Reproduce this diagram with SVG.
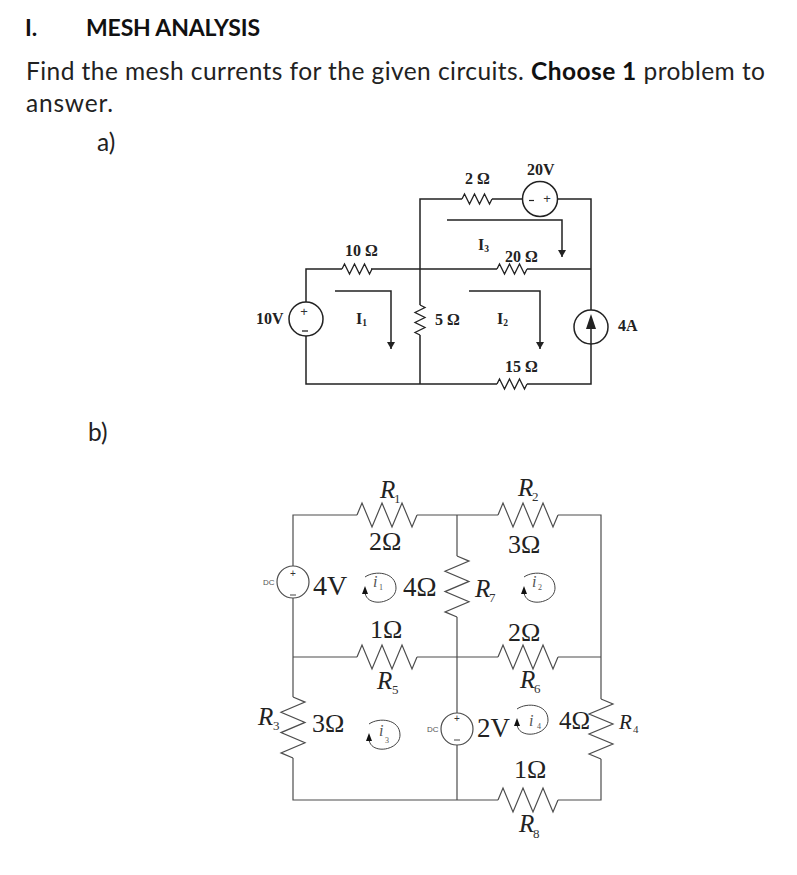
<svg xmlns="http://www.w3.org/2000/svg" width="797" height="875" viewBox="0 0 797 875">
<style>
.h{font-family:"Lato","Open Sans",sans-serif;font-size:24.500px;fill:#222}
.hb{font-family:"Lato","Open Sans",sans-serif;font-size:24.500px;font-weight:700;fill:#111}
.ht{font-family:"Lato","Open Sans",sans-serif;font-size:23px;font-weight:700;fill:#111}
.w{fill:none;stroke:#222;stroke-width:1.5}
.g{fill:none;stroke:#4d4d4d;stroke-width:1.2}
.bg{fill:#fff;stroke:#222;stroke-width:1.5}
.bgb{fill:#fff;stroke:#4d4d4d;stroke-width:1.2}
.a{font-family:"Liberation Serif",serif;font-size:16px;font-weight:700;fill:#222}
.as{font-family:"Liberation Serif",serif;font-size:9.500px;font-weight:700;fill:#222}
.r{font-family:"Liberation Serif",serif;font-size:25px;font-style:italic;fill:#222}
.rs{font-family:"Liberation Serif",serif;font-size:13px;fill:#333}
.n{font-family:"Liberation Serif",serif;font-size:26px;fill:#222}
.dc{font-family:"Liberation Sans",sans-serif;font-size:8px;fill:#555}
.i{font-family:"Liberation Serif",serif;font-size:16px;font-style:italic;fill:#555}
.is{font-family:"Liberation Serif",serif;font-size:8px;fill:#555}
.p{font-family:"Liberation Sans",sans-serif;font-size:10px;fill:#333;text-anchor:middle}
</style>
<defs>
<path id="rs" d="M0,0l2.500,-5 5,10 5,-10 5,10 5,-10 5,10 2.500,-5" fill="none" stroke="#222" stroke-width="1.3"/>
<path id="rb" d="M0,0l5,-12 10,24 10,-24 10,24 10,-24 10,24 5,-12" fill="none" stroke="#4d4d4d" stroke-width="1.2"/>
<marker id="ah" viewBox="0 0 7 8" refX="7" refY="4" markerWidth="7" markerHeight="8" orient="auto" markerUnits="userSpaceOnUse"><path d="M0,0L7,4L0,8Z" fill="#222"/></marker>
<g id="loop"><path d="M0,-14C10,-21 31,-19 31,-3C31,13 1,17 0,1" fill="none" stroke="#444" stroke-width="1"/><path d="M-3,3H3L0,-5Z" fill="#111"/></g>
</defs>

<g id="heading">
<text class="ht" x="25" y="36">I.</text>
<text class="ht" x="86" y="36" textLength="174">MESH ANALYSIS</text>
<text class="h" x="26" y="80" textLength="739">Find the mesh currents for the given circuits. <tspan class="hb">Choose 1</tspan> problem to</text>
<text class="h" x="26" y="112" textLength="87">answer.</text>
<text class="h" x="97" y="151">a)</text>
<text class="h" x="88" y="441">b)</text>
</g>

<g id="connectors">
<path class="w" d="M306,302V269H342M371,269H497M527,269H591M306,336V384H497M527,384H591V344M591,310V199H557M523,199H492M462,199H420V305M420,335V384"/>
<path class="w" d="M335,291H391V349" marker-end="url(#ah)"/>
<path class="w" d="M469,291H540V349" marker-end="url(#ah)"/>
<path class="w" d="M447,220H562V257" marker-end="url(#ah)"/>
<path class="g" d="M293,566V515H357M417,515H498M558,515H601V699M601,759V800H558M498,800H293V758M293,697V598M293,657H357M417,657H498M558,657H601M457,515V556M457,617V713M457,745V800"/>
</g>

<g id="circuit-a">
<g id="r10"><use href="#rs" x="342" y="269"/><text class="a" x="345" y="256">10 Ω</text></g>
<g id="r20"><use href="#rs" x="497" y="269"/><text class="a" x="505" y="262">20 Ω</text></g>
<g id="r15"><use href="#rs" x="497" y="384"/><text class="a" x="505" y="372">15 Ω</text></g>
<g id="r2a"><use href="#rs" x="462" y="199"/><text class="a" x="465" y="184">2 Ω</text></g>
<g id="r5a"><use href="#rs" transform="translate(420,305) rotate(90)"/><text class="a" x="435" y="325">5 Ω</text></g>
<g id="v10"><circle class="bg" cx="306" cy="319" r="17"/><text class="p" x="304" y="316" style="font-size:13px">+</text><path d="M302,331h6" stroke="#222" stroke-width="1.3"/><text class="a" x="256" y="324">10V</text></g>
<g id="v20"><circle class="bg" cx="540" cy="199" r="17.500"/><path d="M529,200.500h5" stroke="#222" stroke-width="1.2"/><text class="p" x="547" y="203" style="font-size:13px">+</text><text class="a" x="527" y="175">20V</text></g>
<g id="i4a"><circle class="bg" cx="591" cy="327" r="17"/><path d="M591,344V318" stroke="#222" stroke-width="1.5"/><path d="M586,329L591,314L596,329Z" fill="#222"/><text class="a" x="618" y="331">4A</text></g>
<g id="labels-a">
<text class="a" x="356" y="324">I<tspan class="as" dy="2">1</tspan></text>
<text class="a" x="497" y="324">I<tspan class="as" dy="2">2</tspan></text>
<text class="a" x="478" y="250">I<tspan class="as" dy="2">3</tspan></text>
</g>
</g>

<g id="circuit-b">
<g id="R1"><use href="#rb" x="357" y="515"/><text class="r" x="380" y="498">R</text><text class="rs" x="394" y="503">1</text><text class="n" x="369" y="550">2Ω</text></g>
<g id="R2"><use href="#rb" x="498" y="515"/><text class="r" x="518" y="496">R</text><text class="rs" x="532" y="501">2</text><text class="n" x="508" y="553">3Ω</text></g>
<g id="R7"><use href="#rb" transform="translate(457,556) rotate(90) scale(1.017,1)"/><text class="r" x="475" y="597">R</text><text class="rs" x="489" y="602">7</text><text class="n" x="403" y="596" style="font-size:27px">4Ω</text></g>
<g id="R5"><use href="#rb" x="357" y="657"/><text class="n" x="370" y="638">1Ω</text><text class="r" x="377" y="689">R</text><text class="rs" x="392" y="694">5</text></g>
<g id="R6"><use href="#rb" x="498" y="657"/><text class="n" x="508" y="641">2Ω</text><text class="r" x="520" y="688">R</text><text class="rs" x="534" y="693">6</text></g>
<g id="R3"><use href="#rb" transform="translate(293,697) rotate(90) scale(1.017,1)"/><text class="r" x="258" y="725">R</text><text class="rs" x="273" y="730">3</text><text class="n" x="312" y="732">3Ω</text></g>
<g id="R4"><use href="#rb" transform="translate(601,699) rotate(90)"/><text class="r" x="619" y="729" style="font-size:21px">R</text><text class="rs" x="633" y="733" style="font-size:11px">4</text><text class="n" x="559" y="729" style="font-size:25px">4Ω</text></g>
<g id="R8"><use href="#rb" x="498" y="800"/><text class="n" x="514" y="778">1Ω</text><text class="r" x="519" y="832">R</text><text class="rs" x="533" y="838">8</text></g>
<g id="V4"><circle class="bgb" cx="293" cy="582" r="16"/><text class="p" x="293" y="577">+</text><path d="M290,595h6" stroke="#444"/><text class="dc" x="263" y="585">DC</text><text class="n" x="313" y="595" style="font-size:28px">4V</text></g>
<g id="V2"><circle class="bgb" cx="457" cy="729" r="16"/><text class="p" x="457" y="722">+</text><path d="M454,740h6" stroke="#444"/><text class="dc" x="427" y="732">DC</text><text class="n" x="477" y="737" style="font-size:27px">2V</text></g>
<g id="loop1"><use href="#loop" x="365" y="591"/><text class="i" x="373" y="587">i</text><text class="is" x="379" y="590">1</text></g>
<g id="loop2"><use href="#loop" x="524" y="591"/><text class="i" x="532" y="587">i</text><text class="is" x="538" y="590">2</text></g>
<g id="loop3"><use href="#loop" x="369" y="738"/><text class="i" x="379" y="736">i</text><text class="is" x="385" y="743">3</text></g>
<g id="loop4"><use href="#loop" x="517" y="723"/><text class="i" x="529" y="726">i</text><text class="is" x="537" y="729">4</text></g>
</g>
</svg>
